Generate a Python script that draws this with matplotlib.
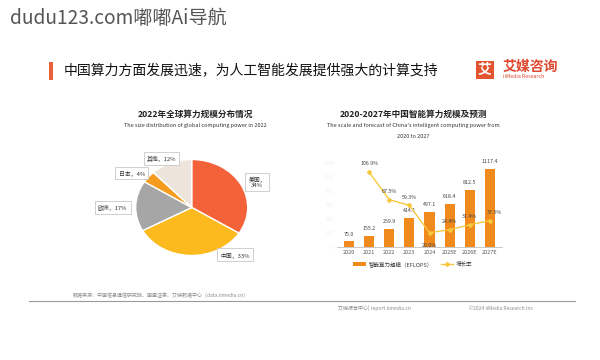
import matplotlib
matplotlib.use("Agg")
import matplotlib.pyplot as plt
from matplotlib.patches import Rectangle
from matplotlib.lines import Line2D

plt.rcParams['font.family'] = ['Noto Sans CJK SC', 'DejaVu Sans']

# ---------------- data ----------------
pie_labels = ["美国", "中国", "欧洲", "日本", "其他"]
pie_values = [34, 33, 17, 4, 12]

years = ["2020", "2021", "2022", "2023", "2024", "2025E", "2026E", "2027E"]
power = [75.0, 155.2, 259.9, 414.1, 497.1, 618.4, 812.5, 1117.4]
growth = [None, 106.9, 67.5, 59.3, 20.0, 24.4, 31.4, 37.5]

W, H = 600, 360
fig = plt.figure(figsize=(6, 3.6), dpi=100)
fig.patch.set_facecolor("white")

def fx(x):
    return x / W

def fy(y):
    return 1 - y / H

# ---------------- header ----------------
fig.text(fx(10), fy(18), "dudu123.com嘟嘟Ai导航", fontsize=13.8, color="#555555",
         va="center", ha="left")
fig.patches.append(Rectangle((fx(49), fy(80)), 4 / W, 18 / H, transform=fig.transFigure,
                             facecolor="#E8603C", edgecolor="none"))
fig.text(fx(64), fy(70.5), "中国算力方面发展迅速，为人工智能发展提供强大的计算支持",
         fontsize=10, color="#111111", va="center", ha="left")
# logo
fig.patches.append(Rectangle((fx(476), fy(79)), 17.5 / W, 17.5 / H, transform=fig.transFigure,
                             facecolor="#E2532F", edgecolor="none"))
fig.text(fx(484.7), fy(70.3), "艾", fontsize=10, color="white", fontweight="bold",
         ha="center", va="center")
fig.text(fx(503), fy(67), "艾媒咨询", fontsize=10, color="#E0472E", fontweight="bold",
         ha="left", va="center")
fig.text(fx(503), fy(76), "iiMedia Research", fontsize=3.8, color="#E0472E",
         ha="left", va="center")

# ---------------- pie chart ----------------
fig.text(fx(195), fy(114), "2022年全球算力规模分布情况", fontsize=6.2, fontweight="bold",
         color="#222222", ha="center", va="center")
fig.text(fx(195), fy(125), "The size distribution of global computing power in 2022",
         fontsize=4, color="#333333", ha="center", va="center")

cx, cy, rx, ry = 191.7, 207.5, 56, 48
axp = fig.add_axes([fx(cx - rx), fy(cy + ry), 2 * rx / W, 2 * ry / H])
pie_colors = ["#F4623A", "#FCBA1E", "#A6A6A6", "#F59B1E", "#EDE5DC"]
wedges, _ = axp.pie(pie_values, colors=pie_colors, startangle=90, counterclock=False,
                    radius=1, wedgeprops=dict(edgecolor="white", linewidth=1.0))
axp.set_aspect("auto")
axp.set_xlim(-1, 1)
axp.set_ylim(-1, 1)
axp.axis("off")

label_pos = [(1.17, 0.53), (0.77, -0.98), (-1.41, 0.0), (-1.07, 0.72), (-0.54, 1.02)]
for name, val, (lx, ly) in zip(pie_labels, pie_values, label_pos):
    txt = f"{name}，\n{val}%" if name == "美国" else f"{name}，{val}%"
    axp.text(lx, ly, txt, fontsize=4.2, color="#333333", ha="center", va="center",
             linespacing=1.1,
             bbox=dict(boxstyle="square,pad=0.55", facecolor="white", edgecolor="#C8C8C8",
                       linewidth=0.6))

# ---------------- bar chart ----------------
fig.text(fx(413.5), fy(114), "2020-2027年中国智能算力规模及预测", fontsize=6.2,
         fontweight="bold", color="#222222", ha="center", va="center")
fig.text(fx(413.5), fy(125), "The scale and forecast of China's intelligent computing power from",
         fontsize=4, color="#333333", ha="center", va="center")
fig.text(fx(413.5), fy(136), "2020 to 2027", fontsize=4, color="#333333",
         ha="center", va="center")

x0, x1, ytop, ybot = 336.9, 502, 163, 246.7
axb = fig.add_axes([fx(x0), fy(ybot), (x1 - x0) / W, (ybot - ytop) / H])
xs = list(range(len(years)))
bar_color = "#F08A1C"
axb.bar(xs, power, width=0.5, color=bar_color, zorder=2)
axb.set_xlim(-0.6, len(years) - 0.4)
axb.set_ylim(0, 1200)
axb.set_yticks(range(0, 1201, 200))
axb.set_xticks(xs)
axb.set_xticklabels(years)
axb.tick_params(axis="x", length=0, labelsize=4, colors="#595959", pad=2.5)
axb.tick_params(axis="y", length=0, labelsize=3.5, labelcolor="#F0F0F0", pad=2)
for s in ["top", "right", "left"]:
    axb.spines[s].set_visible(False)
axb.spines["bottom"].set_color("#BFBFBF")
axb.spines["bottom"].set_linewidth(0.6)
axb.patch.set_alpha(0)
for xi, v in zip(xs, power):
    axb.annotate(f"{v:.1f}", (xi, v), xytext=(0, 3.5), textcoords="offset points",
                 ha="center", va="bottom", fontsize=3.8, color="#404040")

axl = axb.twinx()
axl.set_ylim(0, 120)
gx = [x for x, g in zip(xs, growth) if g is not None]
gy = [g for g in growth if g is not None]
line_color = "#F5C83E"
axl.plot(gx, gy, color=line_color, linewidth=1.0, marker="D", markersize=2,
         zorder=3)
axl.axis("off")
gl_off = [6, 6, 6, -9, 6, 6, 6]
gl_dx = [0, 0, 0, 0, 0, 0, 3]
for xi, g, dy, dx in zip(gx, gy, gl_off, gl_dx):
    axl.annotate(f"{g:.1f}%", (xi, g), xytext=(dx, dy), textcoords="offset points",
                 ha="center", va="center", fontsize=3.8, color="#404040")

handles = [Rectangle((0, 0), 1, 1, facecolor=bar_color, edgecolor="none"),
           Line2D([0], [0], color=line_color, linewidth=1.0, marker="D", markersize=2)]
fig.legend(handles, ["智能算力规模（EFLOPS）", "增长率"], loc="center",
           bbox_to_anchor=(fx(413), fy(264)), ncol=2, frameon=False, fontsize=4,
           handlelength=2.2, handleheight=0.7, columnspacing=1.5, handletextpad=0.5,
           labelcolor="#404040")

# ---------------- footer ----------------
fig.text(fx(73), fy(295.5), "数据来源：中国信息通信研究院、国盛证券、艾媒数据中心（data.iimedia.cn）",
         fontsize=3.6, color="#8C8C8C", ha="left", va="center")
fig.lines.append(Line2D([fx(29), fx(575)], [fy(300.7), fy(300.7)], transform=fig.transFigure,
                        color="#9A9A9A", linewidth=0.8))
fig.text(fx(338), fy(308), "艾媒报告中心| report.iimedia.cn", fontsize=3.6, color="#8C8C8C",
         ha="left", va="center")
fig.text(fx(469), fy(308), "©2024 iiMedia Research Inc", fontsize=3.6, color="#8C8C8C",
         ha="left", va="center")

fig.savefig("out.png", dpi=100, facecolor="white")
